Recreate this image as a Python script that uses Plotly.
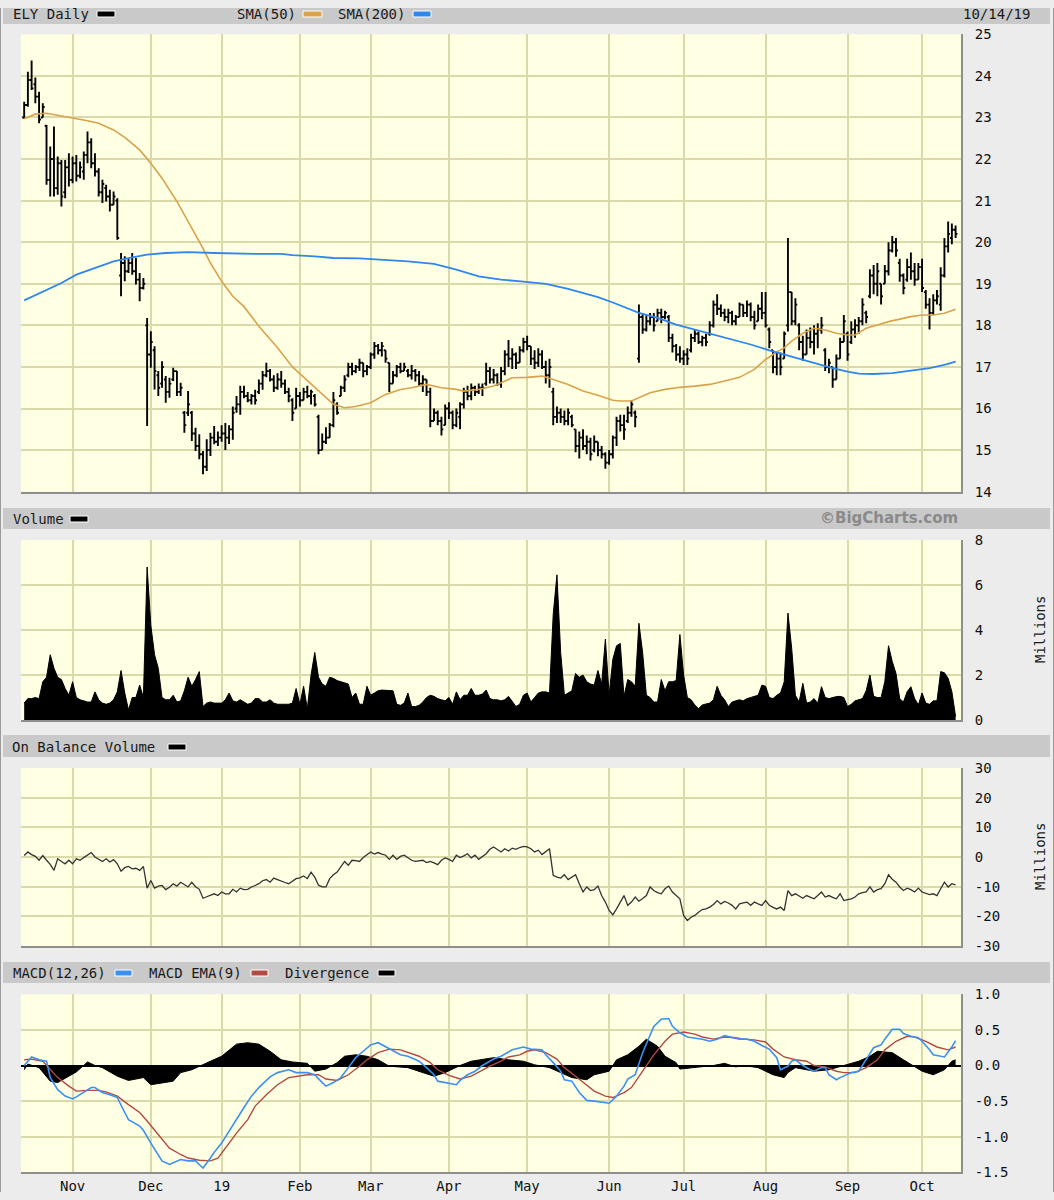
import plotly.graph_objects as go

W, H = 1054, 1200

# ---------------- data (trading-day index 0 = Oct 15 2018 ... 250 = Oct 14 2019) ----------------
month_idx = [13, 34, 53, 74, 93, 114, 135, 157, 177, 199, 221, 241]
month_lbl = ["Nov", "Dec", "19", "Feb", "Mar", "Apr", "May", "Jun", "Jul", "Aug", "Sep", "Oct"]

high = [23.38, 24.10, 24.37, 23.96, 23.62, 23.34, 22.82, 22.30, 22.78, 22.06,
        21.98, 21.98, 22.14, 22.06, 22.10, 21.94, 22.18, 22.66, 22.50, 22.14,
        21.78, 21.50, 21.38, 21.26, 21.22, 21.06, 19.74, 19.66, 19.62, 19.74,
        19.62, 19.26, 19.14, 18.18, 17.86, 17.50, 16.90, 17.14, 16.78, 16.74,
        16.98, 16.90, 16.62, 15.94, 16.42, 15.94, 15.54, 15.38, 14.98, 15.26,
        15.42, 15.58, 15.45, 15.60, 15.65, 15.60, 16.05, 16.30, 16.55, 16.55,
        16.40, 16.35, 16.45, 16.70, 16.90, 17.10, 16.95, 16.80, 16.85, 16.90,
        16.70, 16.50, 16.25, 16.50, 16.40, 16.50, 16.55, 16.45, 16.35, 15.85,
        15.40, 15.55, 15.65, 16.40, 16.15, 16.55, 16.80, 17.10, 17.10, 17.05,
        17.20, 17.10, 17.05, 17.35, 17.60, 17.55, 17.60, 17.40, 17.10, 16.90,
        17.05, 17.10, 17.10, 16.95, 17.05, 16.95, 16.90, 16.80, 16.70, 16.50,
        16.00, 15.95, 15.80, 16.10, 16.15, 15.95, 16.00, 16.15, 16.50, 16.55,
        16.60, 16.55, 16.60, 16.60, 17.10, 17.00, 16.95, 16.85, 17.00, 17.40,
        17.65, 17.45, 17.35, 17.50, 17.70, 17.75, 17.50, 17.40, 17.45, 17.40,
        17.15, 17.20, 16.50, 16.05, 16.00, 15.95, 16.00, 15.85, 15.50, 15.45,
        15.50, 15.35, 15.30, 15.35, 15.20, 15.10, 14.95, 15.00, 15.35, 15.80,
        15.85, 15.85, 16.05, 16.20, 15.95, 18.50, 18.30, 18.25, 18.30, 18.30,
        18.40, 18.40, 18.35, 18.25, 17.80, 17.55, 17.50, 17.40, 17.45, 17.80,
        17.90, 17.85, 17.75, 17.80, 18.10, 18.60, 18.75, 18.50, 18.40, 18.40,
        18.35, 18.25, 18.55, 18.50, 18.60, 18.55, 18.35, 18.50, 18.80, 18.80,
        17.95, 17.40, 17.35, 17.35, 17.85, 20.10, 18.80, 18.65, 18.05, 17.75,
        17.90, 17.95, 18.00, 18.05, 18.20, 17.45, 17.20, 17.00, 17.30, 17.70,
        18.25, 17.85, 18.10, 18.15, 18.20, 18.65, 18.35, 19.35, 19.45, 19.50,
        19.00, 19.45, 20.00, 20.15, 20.10, 19.60, 19.25, 19.60, 19.75, 19.50,
        19.50, 19.60, 18.85, 18.65, 18.75, 18.85, 19.40, 20.10, 20.50, 20.45,
        20.40]

low = [22.97, 23.26, 23.66, 23.34, 22.86, 23.00, 21.38, 21.10, 21.10, 21.14,
       20.86, 21.06, 21.34, 21.42, 21.46, 21.54, 21.50, 21.90, 21.78, 21.58,
       21.10, 20.94, 20.98, 20.74, 20.90, 20.06, 18.70, 19.06, 19.26, 19.22,
       18.98, 18.58, 18.86, 15.58, 16.98, 16.46, 16.30, 16.50, 16.14, 16.26,
       16.66, 16.30, 16.30, 15.42, 15.82, 15.22, 14.98, 14.78, 14.42, 14.50,
       14.86, 15.14, 15.10, 15.20, 15.00, 15.15, 15.25, 15.90, 15.85, 16.25,
       16.15, 16.10, 16.10, 16.35, 16.45, 16.75, 16.65, 16.40, 16.45, 16.50,
       16.35, 16.15, 15.70, 16.00, 16.05, 16.20, 16.25, 16.10, 16.05, 14.90,
       15.00, 15.15, 15.30, 15.55, 15.85, 16.30, 16.40, 16.75, 16.80, 16.85,
       16.90, 16.75, 16.80, 16.95, 17.20, 17.30, 17.25, 17.10, 16.40, 16.60,
       16.75, 16.85, 16.90, 16.75, 16.70, 16.65, 16.55, 16.40, 16.30, 15.55,
       15.70, 15.60, 15.35, 15.60, 15.75, 15.50, 15.55, 15.50, 16.00, 16.20,
       16.20, 16.30, 16.35, 16.30, 16.55, 16.60, 16.60, 16.55, 16.50, 16.80,
       17.00, 16.95, 16.95, 17.10, 17.35, 17.40, 17.05, 16.95, 17.00, 16.95,
       16.60, 16.50, 15.60, 15.65, 15.65, 15.60, 15.60, 15.55, 14.95, 14.80,
       15.00, 14.90, 14.75, 14.95, 14.85, 14.80, 14.55, 14.65, 14.80, 15.10,
       15.45, 15.25, 15.65, 15.80, 15.55, 17.10, 17.80, 17.85, 18.00, 17.85,
       18.10, 18.05, 18.15, 17.60, 17.35, 17.15, 17.10, 17.05, 17.05, 17.35,
       17.60, 17.55, 17.50, 17.50, 17.75, 17.95, 18.25, 18.20, 18.10, 18.05,
       18.00, 18.00, 18.20, 18.20, 18.20, 18.10, 17.90, 18.10, 18.15, 17.95,
       17.45, 16.85, 16.80, 16.80, 17.20, 17.85, 18.00, 18.00, 17.40, 17.15,
       17.30, 17.45, 17.30, 17.45, 17.80, 16.90, 16.85, 16.50, 16.70, 17.20,
       17.60, 17.15, 17.55, 17.70, 17.80, 18.00, 18.05, 18.65, 18.75, 18.70,
       18.50, 19.00, 19.20, 19.75, 19.65, 19.05, 18.75, 19.05, 19.10, 18.95,
       19.10, 18.80, 18.40, 17.90, 18.25, 18.50, 18.35, 19.15, 19.75, 19.95,
       20.10]

open_ = [23.0, 23.3, 23.9, 23.8, 23.5, 23.0, 22.8, 21.5, 22.0, 21.3,
         21.9, 21.2, 21.8, 21.5, 21.9, 21.6, 21.7, 22.1, 22.4, 21.9,
         21.7, 21.2, 21.3, 21.1, 20.9, 21.0, 19.2, 19.5, 19.3, 19.5,
         19.3, 19.1, 18.9, 18.0, 17.3, 17.4, 16.8, 16.6, 16.7, 16.4,
         16.7, 16.9, 16.4, 15.9, 15.9, 15.9, 15.4, 15.1, 14.9, 14.6,
         15.0, 15.3, 15.2, 15.3, 15.4, 15.3, 15.5, 16.0, 16.1, 16.4,
         16.3, 16.2, 16.3, 16.4, 16.6, 16.8, 16.9, 16.7, 16.5, 16.7,
         16.6, 16.4, 16.2, 16.0, 16.3, 16.2, 16.4, 16.3, 16.3, 15.8,
         15.0, 15.2, 15.3, 15.6, 16.1, 16.3, 16.5, 16.8, 17.0, 16.9,
         17.0, 17.1, 16.9, 17.0, 17.3, 17.5, 17.4, 17.4, 17.1, 16.6,
         16.8, 17.0, 16.9, 16.9, 16.8, 16.9, 16.8, 16.6, 16.7, 16.4,
         15.7, 15.9, 15.7, 15.6, 16.0, 15.9, 15.6, 15.8, 16.1, 16.4,
         16.3, 16.5, 16.4, 16.5, 16.6, 16.9, 16.7, 16.8, 16.6, 16.9,
         17.3, 17.2, 17.3, 17.1, 17.4, 17.6, 17.5, 17.2, 17.1, 17.3,
         17.0, 16.8, 16.4, 15.8, 15.9, 15.8, 15.7, 15.8, 15.5, 15.1,
         15.3, 15.1, 15.2, 15.0, 15.2, 15.0, 14.9, 14.7, 14.9, 15.3,
         15.7, 15.6, 15.7, 15.9, 15.9, 17.2, 18.2, 17.9, 18.1, 18.2,
         18.1, 18.3, 18.2, 18.2, 17.7, 17.5, 17.3, 17.2, 17.3, 17.4,
         17.7, 17.8, 17.6, 17.7, 17.8, 18.0, 18.5, 18.4, 18.3, 18.2,
         18.3, 18.1, 18.2, 18.5, 18.3, 18.5, 18.2, 18.1, 18.4, 18.3,
         17.9, 17.4, 17.0, 17.2, 17.2, 18.0, 18.8, 18.1, 18.0, 17.6,
         17.3, 17.7, 17.6, 17.8, 17.9, 17.4, 17.0, 17.0, 16.7, 17.2,
         17.6, 17.8, 17.6, 17.9, 18.0, 18.1, 18.3, 18.7, 19.2, 19.0,
         19.0, 19.0, 19.3, 19.8, 20.0, 19.5, 19.2, 19.1, 19.4, 19.3,
         19.1, 19.4, 18.8, 18.5, 18.3, 18.6, 18.5, 19.2, 19.9, 20.1,
         20.3]

close = [23.3, 23.9, 23.7, 23.5, 22.95, 23.25, 21.5, 22.0, 21.3, 21.9,
         21.1, 21.8, 21.5, 21.9, 21.6, 21.8, 22.1, 22.4, 21.9, 21.7,
         21.2, 21.4, 21.1, 20.9, 21.1, 20.1, 19.5, 19.3, 19.5, 19.3,
         19.1, 18.9, 19.0, 17.3, 17.6, 16.9, 16.5, 17.0, 16.4, 16.6,
         16.9, 16.4, 16.5, 15.6, 16.1, 15.4, 15.1, 14.9, 14.6, 15.0,
         15.3, 15.2, 15.3, 15.4, 15.3, 15.5, 15.9, 16.1, 16.4, 16.3,
         16.2, 16.3, 16.2, 16.6, 16.8, 16.9, 16.7, 16.5, 16.7, 16.6,
         16.4, 16.3, 15.9, 16.3, 16.2, 16.4, 16.3, 16.4, 16.1, 15.0,
         15.2, 15.3, 15.6, 16.2, 15.9, 16.5, 16.7, 17.0, 16.9, 17.0,
         17.1, 16.9, 17.0, 17.3, 17.5, 17.4, 17.5, 17.2, 16.6, 16.8,
         17.0, 16.9, 17.0, 16.8, 16.9, 16.8, 16.6, 16.7, 16.4, 15.7,
         15.9, 15.7, 15.5, 16.0, 15.9, 15.6, 15.9, 16.1, 16.4, 16.3,
         16.5, 16.4, 16.5, 16.5, 16.9, 16.7, 16.8, 16.6, 16.9, 17.3,
         17.2, 17.3, 17.1, 17.4, 17.6, 17.5, 17.2, 17.1, 17.3, 17.0,
         16.8, 17.0, 15.8, 15.9, 15.8, 15.7, 15.9, 15.6, 15.1, 15.3,
         15.1, 15.2, 14.9, 15.2, 15.0, 14.9, 14.7, 14.9, 15.3, 15.7,
         15.6, 15.5, 15.9, 16.1, 15.8, 18.2, 17.9, 18.1, 18.2, 18.0,
         18.3, 18.2, 18.3, 17.7, 17.5, 17.3, 17.2, 17.3, 17.2, 17.7,
         17.8, 17.6, 17.7, 17.6, 18.0, 18.5, 18.4, 18.3, 18.2, 18.3,
         18.1, 18.2, 18.5, 18.3, 18.5, 18.2, 18.0, 18.4, 18.3, 18.0,
         17.6, 17.0, 17.2, 17.0, 17.8, 18.8, 18.1, 18.5, 17.6, 17.3,
         17.7, 17.6, 17.8, 17.9, 18.0, 17.0, 17.1, 16.7, 17.2, 17.6,
         18.1, 17.3, 17.9, 18.0, 18.1, 18.5, 18.2, 19.2, 19.0, 19.3,
         18.7, 19.3, 19.8, 20.0, 19.8, 19.2, 18.9, 19.4, 19.3, 19.1,
         19.4, 18.9, 18.5, 18.3, 18.6, 18.7, 19.2, 19.9, 20.2, 20.3,
         20.2]

sma50_x = [0, 3, 6, 10, 13, 17, 20, 24, 27, 29, 31, 34, 37, 41, 44, 46, 48, 50, 53, 56,
           59, 63, 68, 72, 77, 80, 83, 86, 89, 93, 97, 101, 104, 108, 112, 116, 118, 122, 126, 128,
           131, 135, 139, 142, 146, 150, 154, 158, 160, 163, 165, 168, 172, 176, 180, 184, 188, 192, 196, 199,
           202, 204, 206, 209, 212, 215, 218, 221, 223, 226, 229, 232, 235, 238, 241, 244, 247, 250]
sma50_y = [22.97, 23.08, 23.10, 23.04, 22.98, 22.92, 22.86, 22.70, 22.52, 22.38,
           22.22, 21.90, 21.54, 20.98, 20.50, 20.18, 19.85, 19.50, 19.06, 18.70,
           18.45, 17.98, 17.46, 17.00, 16.60, 16.34, 16.10, 16.02, 16.05, 16.14,
           16.34, 16.46, 16.50, 16.58, 16.50, 16.46, 16.42, 16.46, 16.54, 16.62,
           16.74, 16.75, 16.78, 16.70, 16.58, 16.42, 16.32, 16.20, 16.18, 16.18,
           16.26, 16.38, 16.46, 16.51, 16.54, 16.58, 16.66, 16.75, 16.94, 17.18,
           17.36, 17.46, 17.62, 17.81, 17.93, 17.89, 17.81, 17.77, 17.77, 17.93,
           18.01, 18.09, 18.15, 18.21, 18.25, 18.25, 18.29, 18.39]

sma200_x = [0, 5, 10, 14, 19, 24, 28, 33, 38, 44, 51, 55, 62, 69, 72, 78, 83, 90, 97, 103,
            110, 116, 122, 128, 134, 140, 146, 150, 154, 158, 162, 165, 170, 175, 180, 185, 190, 195, 200, 204,
            207, 212, 217, 221, 224, 228, 233, 238, 243, 247, 250]
sma200_y = [18.60, 18.82, 19.02, 19.22, 19.38, 19.54, 19.62, 19.70, 19.74, 19.76,
            19.74, 19.73, 19.72, 19.72, 19.69, 19.66, 19.62, 19.61, 19.58, 19.54,
            19.48, 19.34, 19.18, 19.10, 19.05, 19.00, 18.88, 18.78, 18.68, 18.55,
            18.40, 18.30, 18.18, 18.02, 17.90, 17.78, 17.66, 17.54, 17.40, 17.30,
            17.21, 17.09, 16.97, 16.89, 16.84, 16.83, 16.85, 16.91, 16.97, 17.05,
            17.13]

volume_m = [0.75, 0.95, 0.95, 1.0, 0.95, 1.7, 1.9, 2.9, 2.3, 1.9,
            1.8, 1.4, 1.1, 1.7, 1.0, 0.9, 0.85, 0.8, 0.8, 1.25,
            0.9, 0.75, 0.7, 0.75, 0.9, 1.25, 2.2, 1.2, 0.45, 1.0,
            1.0, 1.55, 1.0, 6.8, 4.2, 2.9, 2.3, 1.0, 0.9, 0.9,
            1.1, 0.8, 0.85, 1.3, 1.9, 1.5, 1.8, 2.15, 0.6, 0.75,
            0.8, 0.75, 0.75, 0.75, 0.9, 1.2, 0.85, 0.8, 0.9, 0.8,
            0.7, 0.75, 0.95, 0.95, 0.8, 0.8, 0.9, 0.75, 0.7, 0.7,
            0.7, 0.7, 0.75, 1.4, 0.7, 1.5, 0.5, 2.0, 3.0, 1.9,
            1.6, 1.5, 1.9, 1.85, 1.75, 1.7, 1.65, 1.6, 1.0, 1.2,
            0.7, 0.7, 1.5, 1.1, 1.2, 1.3, 1.33, 1.33, 1.33, 1.3,
            0.7, 0.65, 0.75, 1.2, 0.6, 0.6, 0.65, 0.8, 1.0, 1.1,
            1.05, 0.95, 0.9, 0.85, 1.0, 0.7, 1.25, 0.9, 1.1, 1.1,
            1.4, 1.1, 1.1, 1.15, 1.33, 0.95, 0.9, 0.9, 0.85, 0.9,
            1.05, 0.8, 0.6, 0.7, 1.1, 1.2, 0.8, 1.0, 1.2, 1.25,
            1.25, 1.2, 4.7, 6.45, 3.0, 1.1, 1.2, 1.3, 2.07, 1.9,
            2.0, 1.7, 1.6, 1.55, 2.2, 1.6, 3.6, 1.1, 2.7, 3.3,
            3.4, 1.05, 1.8, 1.7, 1.5, 4.3, 3.0, 1.1, 1.0, 0.8,
            0.8, 1.8, 1.3, 1.7, 1.7, 1.75, 3.8, 2.0, 1.0, 0.9,
            0.67, 0.5, 0.67, 0.7, 0.75, 0.9, 1.5, 1.1, 0.9, 0.6,
            0.8, 0.85, 0.9, 0.85, 0.95, 1.0, 1.05, 1.1, 1.55, 1.5,
            1.0, 0.95, 1.1, 1.2, 1.7, 4.75, 3.2, 1.1, 0.8, 1.63,
            0.75, 0.8, 0.95, 0.75, 1.48, 1.0, 0.95, 1.0, 1.04, 1.05,
            1.0, 0.6, 0.7, 0.85, 0.9, 0.95, 1.3, 2.0, 1.05, 1.0,
            1.0, 1.7, 3.3, 2.6, 2.07, 0.95, 0.8, 1.26, 1.48, 0.95,
            0.67, 1.2, 0.75, 0.7, 0.85, 0.85, 2.15, 2.1, 1.85, 1.26,
            0.15]

obv_m = [0.5, 1.7, 0.8, 0.2, -1.1, 0.5, -1.1, -2.5, -4.5, -0.6,
         -1.5, -2.3, -1.1, -2.3, -0.6, -1.1, -0.2, 0.7, 1.5, 0.0,
         -0.8, -1.5, -0.6, -1.7, -0.9, -2.3, -4.8, -3.6, -3.2, -4.0,
         -3.8, -4.5, -3.2, -10.5, -7.9, -10.5, -9.8, -9.6, -11.0, -10.2,
         -9.0, -9.8, -8.5, -9.4, -10.1, -8.5, -10.0, -10.9, -13.9, -13.4,
         -13.0, -12.4, -13.0, -11.8, -12.4, -12.4, -10.9, -11.8, -10.5, -11.0,
         -10.9, -10.1, -9.6, -9.0, -8.0, -7.6, -8.5, -7.1, -7.6, -8.2,
         -8.6, -9.0, -8.2, -7.3, -7.0, -6.4, -7.3, -5.1, -6.8, -9.5,
         -10.1, -10.1, -7.3, -6.0, -5.1, -3.5, -1.5, -2.8, -1.1, -1.2,
         -1.5, -0.2, 0.6, 1.7, 1.0, 1.5, 1.0, 0.6, -0.8, 0.6,
         -0.8, 0.2, 0.6, -0.3, -1.1, -1.5, -1.2, -1.1, -1.9, -1.5,
         -2.0, -2.6, -1.1, -0.3, -0.8, -1.5, 0.6, -0.2, 0.4, 1.1,
         -0.3, 0.6, -0.8, 0.2, 1.1, 2.6, 3.4, 2.5, 1.7, 2.8,
         2.0, 3.0, 2.6, 3.2, 3.6, 3.4, 2.8, 1.7, 2.3, 0.8,
         1.7, 2.8, -6.2, -6.8, -7.1, -6.0, -7.6, -6.8, -6.0, -9.0,
         -11.8, -10.1, -11.3, -11.0, -9.8, -13.0, -15.2, -18.0, -19.5, -17.5,
         -15.0, -13.0, -16.3, -15.2, -13.5, -14.9, -14.0, -13.0, -10.1, -11.3,
         -12.0, -12.4, -10.7, -9.8, -11.8, -13.0, -14.1, -19.7, -21.4, -20.3,
         -19.7, -18.6, -17.7, -17.5, -16.9, -16.0, -14.7, -15.8, -15.0, -15.5,
         -16.3, -17.5, -15.8, -15.5, -15.2, -16.3, -15.2, -15.8, -16.3, -14.7,
         -16.3, -17.0, -17.5, -16.9, -18.0, -11.3, -13.0, -12.4, -13.2, -13.9,
         -13.0, -13.6, -14.1, -13.0, -11.8, -13.5, -13.0, -13.6, -14.1, -12.4,
         -14.7, -14.4, -14.1, -13.5, -12.4, -12.0, -11.8, -10.1, -11.8, -11.0,
         -10.7, -9.0, -6.0, -7.5, -8.5, -10.1, -11.3, -10.5, -11.0, -11.8,
         -10.5, -11.8, -12.2, -12.7, -12.4, -13.0, -10.7, -8.5, -10.1, -9.0,
         -9.4]

macd_x = [0, 2, 4, 6, 7, 9, 11, 13, 14, 16, 18, 19, 21, 23, 25, 27, 28, 31, 32, 34,
          36, 37, 39, 41, 42, 44, 46, 47, 48, 50, 51, 53, 55, 57, 59, 61, 63, 66, 68, 71,
          73, 76, 78, 80, 81, 83, 85, 87, 89, 91, 93, 95, 97, 99, 101, 103, 106, 108, 110, 111,
          113, 116, 117, 119, 121, 123, 126, 128, 130, 131, 134, 136, 139, 140, 142, 144, 145, 147, 149, 151,
          153, 155, 157, 159, 161, 162, 164, 166, 168, 169, 171, 173, 174, 176, 178, 180, 182, 184, 186, 188,
          190, 192, 194, 196, 198, 200, 202, 203, 205, 206, 207, 209, 211, 212, 214, 215, 216, 218, 219, 221,
          222, 224, 226, 228, 230, 231, 233, 235, 236, 238, 240, 241, 243, 244, 247, 249, 250]
macd_y = [0.0, 0.12, 0.08, 0.06, -0.17, -0.34, -0.43, -0.47, -0.44, -0.38,
          -0.31, -0.31, -0.38, -0.41, -0.45, -0.66, -0.76, -0.85, -0.91, -1.09,
          -1.25, -1.34, -1.39, -1.34, -1.32, -1.34, -1.34, -1.39, -1.44, -1.30,
          -1.22, -1.09, -0.92, -0.76, -0.59, -0.43, -0.31, -0.16, -0.10, -0.06,
          -0.10, -0.10, -0.13, -0.24, -0.29, -0.24, -0.17, -0.03, 0.11, 0.20,
          0.29, 0.32, 0.26, 0.20, 0.15, 0.13, 0.06, -0.03, -0.13, -0.22,
          -0.24, -0.27, -0.21, -0.13, -0.08, 0.0, 0.09, 0.13, 0.19, 0.22,
          0.26, 0.23, 0.22, 0.15, 0.04, -0.08, -0.20, -0.22, -0.38, -0.49,
          -0.50, -0.51, -0.53, -0.43, -0.29, -0.19, -0.13, 0.18, 0.44, 0.55,
          0.65, 0.66, 0.55, 0.46, 0.40, 0.39, 0.37, 0.34, 0.37, 0.42,
          0.39, 0.37, 0.37, 0.34, 0.28, 0.23, 0.11, -0.06, -0.01, 0.06,
          0.08, 0.0, -0.06, -0.08, -0.03, -0.03, -0.13, -0.20, -0.17, -0.13,
          -0.10, -0.08, 0.08, 0.25, 0.29, 0.37, 0.51, 0.51, 0.45, 0.41,
          0.39, 0.34, 0.22, 0.15, 0.12, 0.26, 0.35]

signal_x = [0, 2, 5, 7, 9, 12, 14, 17, 20, 22, 25, 28, 31, 33, 36, 39, 42, 44, 47, 50,
            52, 54, 57, 60, 62, 65, 68, 71, 73, 76, 79, 81, 84, 87, 90, 92, 95, 98, 101, 103,
            106, 109, 111, 114, 117, 120, 122, 125, 128, 130, 133, 135, 137, 140, 143, 145, 148, 151, 153, 156,
            158, 161, 163, 166, 169, 172, 174, 177, 180, 182, 185, 188, 191, 193, 196, 199, 201, 204, 207, 210,
            212, 215, 218, 220, 223, 226, 229, 231, 234, 237, 239, 242, 245, 248, 250]
signal_y = [0.08, 0.09, 0.06, -0.06, -0.17, -0.29, -0.36, -0.35, -0.35, -0.37,
            -0.43, -0.55, -0.66, -0.78, -0.97, -1.16, -1.25, -1.30, -1.33, -1.34,
            -1.30, -1.16, -0.95, -0.76, -0.57, -0.41, -0.27, -0.17, -0.15, -0.13,
            -0.13, -0.19, -0.21, -0.13, -0.01, 0.08, 0.18, 0.23, 0.22, 0.18,
            0.13, 0.04, -0.06, -0.14, -0.19, -0.15, -0.09, -0.01, 0.06, 0.12,
            0.15, 0.20, 0.22, 0.18, 0.09, -0.03, -0.15, -0.27, -0.36, -0.43,
            -0.45, -0.38, -0.31, -0.08, 0.15, 0.34, 0.44, 0.47, 0.44, 0.40,
            0.37, 0.40, 0.39, 0.37, 0.36, 0.33, 0.23, 0.12, 0.08, 0.06,
            0.0, -0.02, -0.08, -0.10, -0.10, -0.03, 0.08, 0.22, 0.34, 0.41,
            0.40, 0.34, 0.26, 0.22, 0.26]

div_x = [0, 1, 4, 7, 9, 12, 14, 17, 19, 21, 25, 28, 32, 34, 40, 42, 45, 50, 53, 57,
         60, 63, 66, 69, 72, 76, 78, 81, 84, 86, 89, 92, 95, 98, 103, 107, 110, 113, 117, 120,
         123, 126, 130, 134, 137, 141, 144, 147, 151, 153, 157, 158, 159, 162, 165, 167, 170, 172, 175, 176,
         180, 185, 188, 191, 193, 197, 201, 204, 205, 207, 210, 212, 216, 219, 220, 224, 227, 229, 233, 236,
         239, 241, 244, 247, 248, 249, 250]
div_y = [-0.06, 0.02, -0.03, -0.22, -0.24, -0.15, -0.09, 0.05, 0.0, -0.03,
         -0.15, -0.21, -0.17, -0.27, -0.22, -0.10, -0.06, 0.06, 0.13, 0.30,
         0.32, 0.30, 0.20, 0.08, 0.05, 0.03, -0.08, -0.05, 0.04, 0.13,
         0.15, 0.13, 0.08, -0.01, -0.03, -0.10, -0.15, -0.10, 0.0, 0.06,
         0.08, 0.11, 0.08, 0.06, 0.01, -0.03, -0.10, -0.17, -0.20, -0.13,
         -0.08, 0.0, 0.08, 0.15, 0.27, 0.37, 0.27, 0.13, 0.04, -0.05,
         -0.03, 0.0, 0.03, -0.02, 0.0, -0.03, -0.13, -0.17, -0.10, -0.03,
         -0.06, -0.08, -0.06, -0.01, 0.0, 0.06, 0.13, 0.20, 0.18, 0.08,
         -0.01, -0.08, -0.13, -0.06, 0.0, 0.06, 0.08]

price_ticks = [14, 15, 16, 17, 18, 19, 20, 21, 22, 23, 24, 25]
vol_ticks = [0, 2, 4, 6, 8]
obv_ticks = [-30, -20, -10, 0, 10, 20, 30]
macd_ticks = [-1.5, -1.0, -0.5, 0.0, 0.5, 1.0]

# ---------------- styling ----------------
PAPER = "#ececec"
PLOT = "#ffffe3"
GRID = "#d9d9a9"
HEAD = "#c9c9c9"
EDGE = "#8f8f8f"
MONO = "DejaVu Sans Mono"
C_SMA50 = "#d9a24b"
C_SMA200 = "#2f86ef"
C_MACD = "#3b90f4"
C_EMA = "#b24a42"

# The captured page shows the figure between rows 8 and 1192, so vertical
# positions (given as target screen rows) are mapped into that band.
V_OFF = 8.0
V_SC = 1184.0 / 1200.0


def px(x):
    return x / W


def py(y):
    return 1 - ((y - V_OFF) / V_SC) / H


XDOM = [px(21), px(961)]
XRANGE = [-0.85, 251.45]
idx = list(range(len(close)))

fig = go.Figure()

fig.add_trace(go.Ohlc(
    x=idx, open=open_, high=high, low=low, close=close,
    increasing=dict(line=dict(color="black", width=1.9)),
    decreasing=dict(line=dict(color="black", width=1.9)),
    tickwidth=0.5, xaxis="x", yaxis="y", hoverinfo="skip", showlegend=False))
fig.add_trace(go.Scatter(x=sma50_x, y=sma50_y, mode="lines",
                         line=dict(color=C_SMA50, width=1.6), xaxis="x", yaxis="y", hoverinfo="skip"))
fig.add_trace(go.Scatter(x=sma200_x, y=sma200_y, mode="lines",
                         line=dict(color=C_SMA200, width=1.8), xaxis="x", yaxis="y", hoverinfo="skip"))

fig.add_trace(go.Scatter(x=idx, y=volume_m, mode="lines", fill="tozeroy", fillcolor="black",
                         line=dict(color="black", width=1), xaxis="x2", yaxis="y2", hoverinfo="skip"))

fig.add_trace(go.Scatter(x=idx, y=obv_m, mode="lines",
                         line=dict(color="#333333", width=1.3), xaxis="x3", yaxis="y3", hoverinfo="skip"))

fig.add_trace(go.Scatter(x=div_x, y=div_y, mode="lines", fill="tozeroy", fillcolor="black",
                         line=dict(color="black", width=1), xaxis="x4", yaxis="y4", hoverinfo="skip"))
fig.add_trace(go.Scatter(x=signal_x, y=signal_y, mode="lines",
                         line=dict(color=C_EMA, width=1.4), xaxis="x4", yaxis="y4", hoverinfo="skip"))
fig.add_trace(go.Scatter(x=macd_x, y=macd_y, mode="lines",
                         line=dict(color=C_MACD, width=1.6), xaxis="x4", yaxis="y4", hoverinfo="skip"))


def xaxis(anchor, labels):
    return dict(domain=XDOM, range=XRANGE, anchor=anchor, tickmode="array",
                tickvals=month_idx, ticktext=month_lbl, showticklabels=labels,
                showgrid=True, gridcolor=GRID, gridwidth=1.6, zeroline=False, ticks="",
                showline=True, linecolor=EDGE, linewidth=2, fixedrange=True,
                tickfont=dict(family=MONO, size=14, color="#111111"),
                rangeslider=dict(visible=False))


def yaxis(anchor, top, bottom, rng, vals, texts, zero=False):
    return dict(domain=[py(bottom), py(top)], range=rng, anchor=anchor, side="right",
                tickmode="array", tickvals=vals, ticktext=texts,
                showgrid=True, gridcolor=GRID, gridwidth=1.6,
                zeroline=zero, zerolinecolor="black", zerolinewidth=2,
                ticks="", ticklabelstandoff=9, showline=True, linecolor=EDGE, linewidth=2,
                fixedrange=True, tickfont=dict(family=MONO, size=14, color="#111111"))


fig.update_layout(
    width=W, height=H, autosize=False,
    margin=dict(l=0, r=0, t=0, b=0),
    paper_bgcolor=PAPER, plot_bgcolor=PLOT,
    showlegend=False, hovermode=False,
    xaxis=xaxis("y", False),
    xaxis2=xaxis("y2", False),
    xaxis3=xaxis("y3", False),
    xaxis4=xaxis("y4", True),
    yaxis=yaxis("x", 34.3, 491.7, [14, 25], price_ticks, [str(v) for v in price_ticks]),
    yaxis2=yaxis("x2", 540, 720, [0, 8], vol_ticks, [str(v) for v in vol_ticks]),
    yaxis3=yaxis("x3", 768, 946, [-30, 30], obv_ticks, [str(v) for v in obv_ticks]),
    yaxis4=yaxis("x4", 994.3, 1172.3, [-1.5, 1.0], macd_ticks,
                 ["%.1f" % v for v in macd_ticks], zero=True),
)

shapes = []
annotations = []

# outer frame (left / right edges)
for xe in (0.5, 1053.5):
    shapes.append(dict(type="line", xref="paper", yref="paper", x0=px(xe), x1=px(xe),
                       y0=0, y1=1, line=dict(color="#9a9a9a", width=1), layer="below"))

# header bars
for top, bot in [(3, 24), (508, 529), (735, 757), (962, 983)]:
    shapes.append(dict(type="rect", xref="paper", yref="paper", x0=px(3), x1=px(1050),
                       y0=py(bot), y1=min(1.0, py(top)), fillcolor=HEAD, line=dict(width=0),
                       layer="below"))


def label(x, y, text, anchor="left", color="#1a1a1a", size=14, family=MONO, angle=0):
    annotations.append(dict(x=px(x), y=py(y), xref="paper", yref="paper", text=text,
                            showarrow=False, xanchor=anchor, yanchor="middle", textangle=angle,
                            font=dict(family=family, size=size, color=color)))


def swatch(x0, x1, y, color):
    shapes.append(dict(type="rect", xref="paper", yref="paper", x0=px(x0), x1=px(x1),
                       y0=py(y + 3), y1=py(y - 3), fillcolor=color,
                       line=dict(color="white", width=1)))


# price header
label(11, 14, "ELY Daily")
swatch(97, 115, 14, "black")
label(235, 14, "SMA(50)")
swatch(303, 322, 14, C_SMA50)
label(336, 14, "SMA(200)")
swatch(413, 431, 14, C_SMA200)
label(1032, 14, "10/14/19", anchor="right")

# volume header
label(11, 519, "Volume")
swatch(70, 88, 519, "black")
label(960, 518, "<b>©BigCharts.com</b>", anchor="right", color="#8a8a8a", size=15, family="DejaVu Sans")
label(1040, 630, "Millions", anchor="center", angle=-90)

# OBV header
label(10, 747, "On Balance Volume")
swatch(168, 186, 747, "black")
label(1040, 857, "Millions", anchor="center", angle=-90)

# MACD header
label(11, 973, "MACD(12,26)")
swatch(115, 132, 973, C_MACD)
label(147, 973, "MACD EMA(9)")
swatch(251, 268, 973, C_EMA)
label(283, 973, "Divergence")
swatch(378, 395, 973, "black")

fig.update_layout(shapes=shapes, annotations=annotations)

page_fix = (
    "var gd=document.getElementById('{plot_id}');"
    "gd.style.position='absolute';gd.style.top='0px';gd.style.left='0px';"
    "document.body.style.margin='0';document.body.style.padding='0';"
    "document.body.style.height='1200px';document.body.style.overflow='hidden';"
    "document.body.style.background='#ececec';"
    "document.documentElement.style.background='#ececec';"
    "document.documentElement.style.height='1200px';"
    "document.documentElement.style.overflow='hidden';"
)

fig.write_html("out.html", config={"displayModeBar": False}, post_script=page_fix)
